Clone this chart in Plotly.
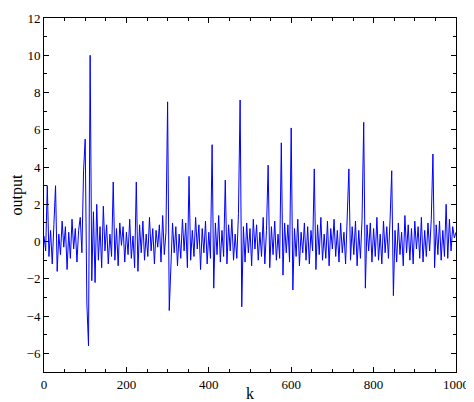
import plotly.graph_objects as go

output = [0.3,-0.5,3.0,-0.8,0.6,-1.2,0.9,3.0,-1.6,0.4,
-0.7,1.1,-0.3,0.8,-1.5,0.5,-0.9,1.2,-0.4,0.7,
-1.1,0.6,1.3,-0.6,3.8,5.5,-3.3,-5.6,10.0,-2.1,
1.6,-2.2,2.0,-1.0,0.8,-1.4,1.9,-0.5,0.9,-1.2,
0.4,-0.8,3.2,-1.0,0.7,-1.3,1.0,-0.2,0.8,-1.1,
0.5,-0.7,1.2,-0.9,0.3,-1.4,3.2,-1.6,0.9,-0.6,
1.1,-1.0,0.4,-0.8,1.3,-0.5,0.7,-1.2,0.6,-0.3,
0.9,-1.1,1.4,-0.7,0.5,7.5,-3.7,-1.2,1.0,-0.6,
0.8,-1.3,0.4,-0.9,1.2,-0.5,1.0,-1.4,3.5,-1.0,
0.6,-0.8,1.3,-0.4,0.9,-1.5,0.7,-0.6,1.1,-1.2,
0.5,-0.9,5.2,-2.5,1.0,-0.7,1.4,-1.1,0.6,-0.8,
3.3,-1.2,0.9,-0.5,1.2,-1.0,0.4,-0.9,1.5,7.6,
-3.5,0.8,-1.1,1.0,-0.6,0.7,-1.3,1.2,-0.4,0.9,
-1.0,0.5,-0.8,1.3,-1.2,0.6,4.1,-1.4,0.8,-0.7,
1.1,-1.0,0.4,-0.9,5.3,-1.8,1.0,-0.6,0.9,-1.1,
6.1,-2.6,0.7,-0.8,1.2,-1.3,0.5,-0.6,1.0,-1.0,
0.8,-1.2,0.6,-0.5,3.9,-1.5,0.9,-0.7,1.3,-1.0,
0.4,-0.9,1.1,-1.3,0.7,-0.4,1.2,-0.8,0.6,-1.1,
1.0,-0.6,0.5,-1.2,1.4,3.9,-1.0,0.8,-0.7,1.1,
-1.3,0.6,-0.9,1.2,6.4,-2.5,0.9,-0.5,1.0,-1.1,
0.7,-0.8,1.3,-1.0,0.4,-1.2,1.1,-0.6,0.8,-0.9,
1.2,3.8,-2.9,0.6,-1.1,1.0,-0.7,0.5,-1.3,1.4,
-0.6,0.9,-1.0,0.7,-1.2,1.1,-0.4,0.8,-0.9,1.3,
-1.1,0.6,-0.8,1.0,-0.5,1.2,4.7,-1.4,0.9,-0.7,
1.1,-1.0,0.6,-0.8,2.0,-0.9,1.2,-0.5,0.8,0.2,
0.5]
k = [4 * i for i in range(len(output))]
x_ticks = [0, 200, 400, 600, 800, 1000]
y_ticks = [-6, -4, -2, 0, 2, 4, 6, 8, 10, 12]

fig = go.Figure(go.Scatter(x=k, y=output, mode="lines", line=dict(color="#0000ff", width=1)))
ax = dict(showgrid=False, zeroline=False, showline=True, mirror="ticks", linecolor="black",
          linewidth=1, ticks="inside", ticklen=5, tickcolor="black", automargin=False,
          minor=dict(ticks="inside", ticklen=3, tickcolor="black"))
fig.update_xaxes(range=[0, 1000], tickvals=x_ticks, title=dict(text="k", standoff=0), **ax)
fig.update_yaxes(range=[-7, 12], tickvals=y_ticks, title=dict(text="output", standoff=0), **ax)
fig.update_layout(width=466, height=394, margin=dict(l=36, r=18, t=10, b=30),
                  plot_bgcolor="white", paper_bgcolor="white", showlegend=False,
                  font=dict(family="Liberation Serif", size=13, color="black"))
fig.write_html("out.html")
